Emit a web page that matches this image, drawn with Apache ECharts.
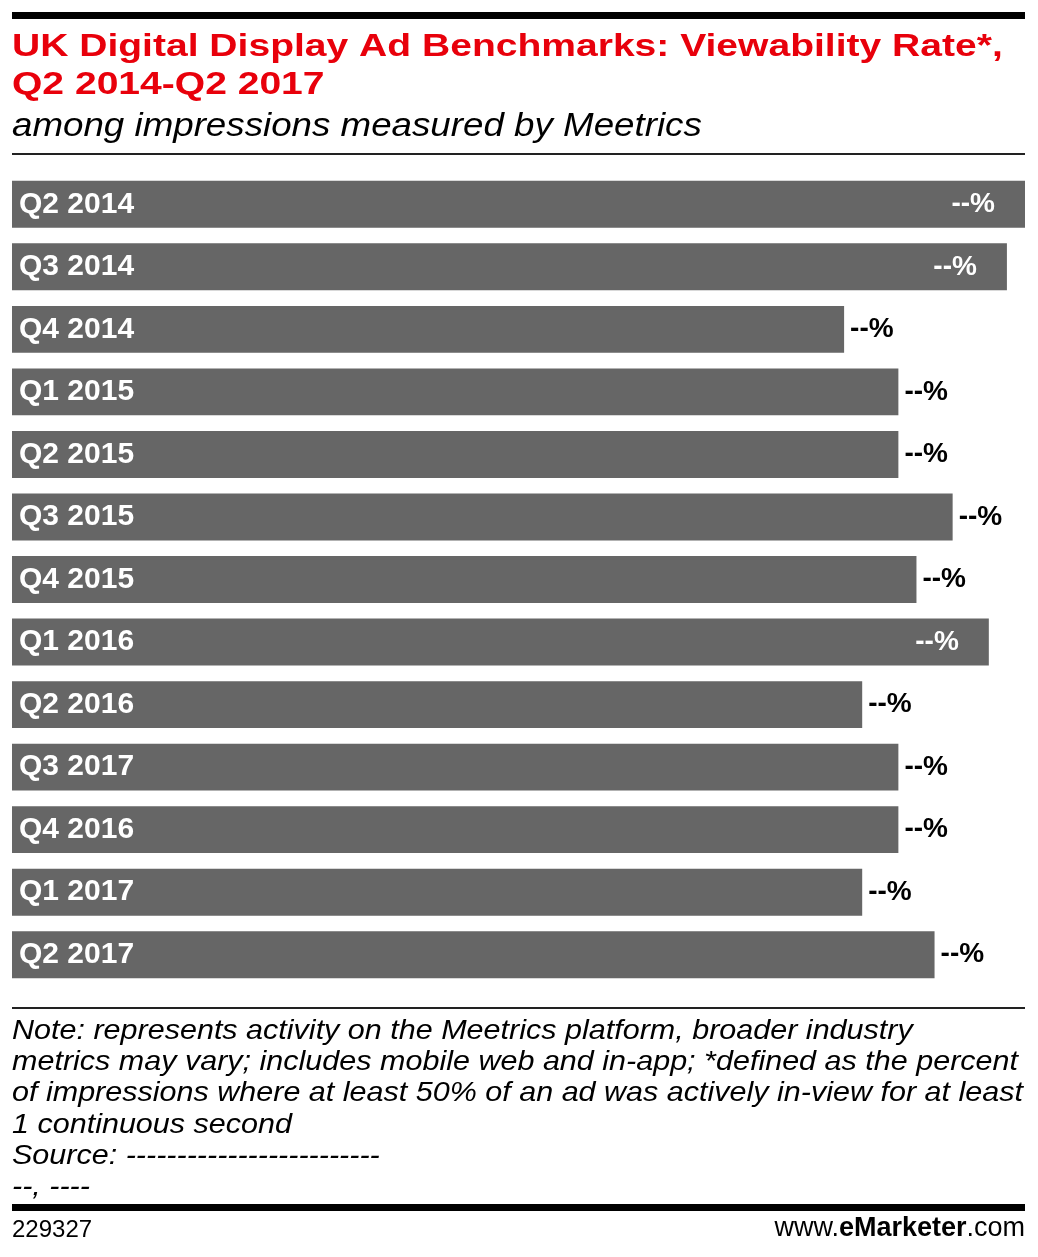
<!DOCTYPE html>
<html>
<head>
<meta charset="utf-8">
<script src="https://cdn.jsdelivr.net/npm/echarts@6/dist/echarts.min.js"></script>
<style>
html,body{margin:0;padding:0;background:#fff;}
#chart{width:1038px;height:1257px;}
</style>
</head>
<body>
<div id="chart"></div>
<script>
const categories = ["Q2 2014","Q3 2014","Q4 2014","Q1 2015","Q2 2015","Q3 2015","Q4 2015","Q1 2016","Q2 2016","Q3 2017","Q4 2016","Q1 2017","Q2 2017"];
const values = [56,55,46,49,49,52,50,54,47,49,49,47,51];
const valueLabels = ["--%","--%","--%","--%","--%","--%","--%","--%","--%","--%","--%","--%","--%"];
const insideLabel = [true,true,false,false,false,false,false,true,false,false,false,false,false];

const titleLines = ["UK Digital Display Ad Benchmarks: Viewability Rate*,","Q2 2014-Q2 2017"];
const subtitle = "among impressions measured by Meetrics";
const noteLines = [
 "Note: represents activity on the Meetrics platform, broader industry",
 "metrics may vary; includes mobile web and in-app; *defined as the percent",
 "of impressions where at least 50% of an ad was actively in-view for at least",
 "1 continuous second",
 "Source: -------------------------",
 "--, ----"
];
const chartId = "229327";

const FONT = "'Liberation Sans', Arial, sans-serif";
const chart = echarts.init(document.getElementById('chart'), null, {renderer:'canvas'});

const graphics = [
  {type:'rect', shape:{x:12,y:12,width:1013,height:7}, style:{fill:'#000'}},
  {type:'rect', shape:{x:12,y:153,width:1013,height:2}, style:{fill:'#222'}},
  {type:'rect', shape:{x:12,y:1007,width:1013,height:2}, style:{fill:'#222'}},
  {type:'rect', shape:{x:12,y:1204,width:1013,height:7}, style:{fill:'#000'}}
];
titleLines.forEach((t,i)=>graphics.push({type:'text', x:12, y:31+i*38, scaleX:1.22,
  style:{text:t, fill:'#e8000b', font:"bold 32px "+FONT, textVerticalAlign:'top'}}));
graphics.push({type:'text', x:12, y:110, scaleX:1.08,
  style:{text:subtitle, fill:'#000', font:"italic 34px "+FONT, textVerticalAlign:'top'}});
noteLines.forEach((t,i)=>graphics.push({type:'text', x:12, y:1017+i*31.3, scaleX:1.09,
  style:{text:t, fill:'#000', font:"italic 28px "+FONT, textVerticalAlign:'top'}}));
graphics.push({type:'text', x:12, y:1218,
  style:{text:chartId, fill:'#000', font:"24px "+FONT, textVerticalAlign:'top'}});
graphics.push({type:'text', x:1025, y:1215, style:{
  text:"{a|www.}{b|e}{c|Marketer}{a|.com}", align:'right', verticalAlign:'top',
  rich:{a:{fontSize:27,fontFamily:FONT,color:'#000'},
        b:{fontSize:27,fontFamily:FONT,fontWeight:'bold',color:'#e8000b'},
        c:{fontSize:27,fontFamily:FONT,fontWeight:'bold',color:'#000'}}
}});

chart.setOption({
  animation:false,
  grid:{left:12, right:13, top:173, bottom:271, containLabel:false},
  xAxis:{type:'value', min:0, max:56, show:false},
  yAxis:{type:'category', data:categories, inverse:true, z:10,
    axisLine:{show:false}, axisTick:{show:false}, splitLine:{show:false},
    axisLabel:{inside:true, margin:7, color:'#fff', fontSize:30, fontWeight:'bold', fontFamily:FONT}
  },
  series:[{
    type:'bar', barCategoryGap:'25%',
    itemStyle:{color:'#666666'},
    data: values.map((v,i)=>({value:v,
      label: insideLabel[i]
        ? {show:true, position:'insideRight', distance:30, color:'#fff'}
        : {show:true, position:'right', distance:6, color:'#000'}
    })),
    label:{show:true, fontSize:28, fontWeight:'bold', fontFamily:FONT,
      formatter:(p)=>valueLabels[p.dataIndex]}
  }],
  graphic: graphics
});
</script>
</body>
</html>
